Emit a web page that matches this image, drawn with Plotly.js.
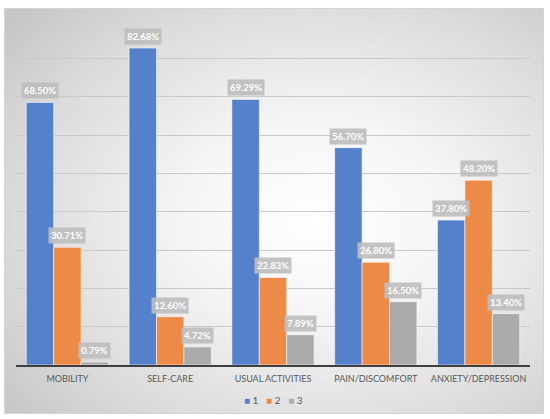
<!DOCTYPE html>
<html>
<head>
<meta charset="utf-8">
<script src="https://cdn.plot.ly/plotly-3.0.1.min.js"></script>
<style>
html, body { margin: 0; padding: 0; background: #ffffff; }
#wrap { position: relative; width: 550px; height: 419px; }
#frame {
  position: absolute; left: 4px; top: 8px; width: 538px; height: 404px;
  border: 1px solid #d4d4d4;
  background: radial-gradient(ellipse 75% 75% at 58% 52%, #ffffff 0%, #f4f4f4 35%, #dadada 75%, #c6c6c6 100%);
}
#chart { position: absolute; left: 0; top: 0; width: 550px; height: 419px; }
</style>
</head>
<body>
<div id="wrap">
  <div id="frame"></div>
  <div id="chart"></div>
</div>
<script>
const categories = ["MOBILITY", "SELF-CARE", "USUAL ACTIVITIES", "PAIN/DISCOMFORT", "ANXIETY/DEPRESSION"];
const seriesNames = ["1", "2", "3"];
const series1 = [68.50, 82.68, 69.29, 56.70, 37.80];
const series2 = [30.71, 12.60, 22.83, 26.80, 48.20];
const series3 = [0.79, 4.72, 7.89, 16.50, 13.40];
const colors = ["#5580CB", "#EE8A47", "#ABABAB"];

const allSeries = [series1, series2, series3];
const bargap = 0.2;
const nSeries = allSeries.length;
const barW = (1 - bargap) / nSeries;
const fontFam = "Lato, 'Open Sans', sans-serif";

const traces = allSeries.map((vals, j) => ({
  type: "bar",
  name: seriesNames[j],
  x: categories,
  y: vals,
  marker: { color: colors[j], line: { color: "rgba(255,255,255,0.7)", width: 0.8 } },
  hoverinfo: "skip"
}));

const annotations = [];
allSeries.forEach((vals, j) => {
  vals.forEach((v, i) => {
    annotations.push({
      x: i + (j - (nSeries - 1) / 2) * barW,
      y: v,
      xref: "x", yref: "y",
      text: "<b>" + v.toFixed(2) + "%</b>",
      showarrow: false,
      xanchor: "center", yanchor: "bottom",
      yshift: 3,
      bgcolor: "rgba(190,190,190,0.92)",
      borderpad: 2,
      font: { family: fontFam, size: 9.5, color: "#ffffff" }
    });
  });
});

// compact legend built from the series names and colours
const legendText = seriesNames.map((n, j) =>
  '<span style="color:' + colors[j] + '">■</span> ' + n).join('   ');
annotations.push({
  xref: "paper", yref: "paper",
  x: 0.5, y: -0.1,
  xanchor: "center", yanchor: "middle",
  showarrow: false,
  text: legendText,
  font: { family: fontFam, size: 10, color: "#595959" }
});

const layout = {
  width: 550, height: 419,
  margin: { l: 16, r: 20, t: 20, b: 54 },
  paper_bgcolor: "rgba(0,0,0,0)",
  plot_bgcolor: "rgba(0,0,0,0)",
  barmode: "group",
  bargap: bargap,
  bargroupgap: 0,
  showlegend: false,
  xaxis: {
    type: "category",
    automargin: false,
    showgrid: false,
    showline: true, linecolor: "#3f3f3f", linewidth: 2,
    ticks: "",
    ticklabelstandoff: 4,
    tickfont: { family: fontFam, size: 9, color: "#595959" },
    fixedrange: true
  },
  yaxis: {
    range: [0, 90],
    dtick: 10,
    automargin: false,
    showticklabels: false,
    showgrid: true, gridcolor: "#c9c9c9", gridwidth: 1,
    zeroline: false,
    showline: false,
    fixedrange: true
  },
  annotations: annotations
};

Plotly.newPlot("chart", traces, layout, { displayModeBar: false, staticPlot: true });
</script>
</body>
</html>
